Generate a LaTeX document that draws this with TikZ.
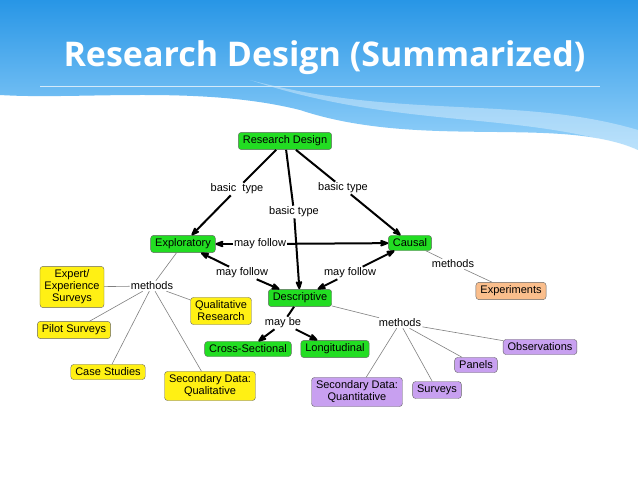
\documentclass[tikz,border=0pt]{standalone}
\usepackage{fontspec}
\setmainfont{Liberation Sans}
\newfontfamily\titlefont{Open Sans}
\usetikzlibrary{arrows.meta, positioning}
\definecolor{boxgreen}{RGB}{34,221,34}
\definecolor{boxyellow}{RGB}{255,240,20}
\definecolor{boxviolet}{RGB}{200,160,240}
\definecolor{boxorange}{RGB}{250,190,140}
\definecolor{skyblue}{RGB}{40,150,230}
\definecolor{skylight}{RGB}{150,210,250}
\begin{document}
\begin{tikzpicture}[x=1pt,y=-1pt,
    >={Stealth[round]},
    box/.style={draw=black!60,rounded corners=3pt,inner xsep=4.5pt,inner ysep=3.5pt,
        font=\fontsize{11}{12}\selectfont,align=center},
    green box/.style={box,fill=boxgreen},
    yellow box/.style={box,fill=boxyellow},
    violet box/.style={box,fill=boxviolet},
    orange box/.style={box,fill=boxorange},
    lbl/.style={font=\fontsize{11}{12}\selectfont,fill=white,inner sep=1pt},
    strong/.style={->,line width=2pt},
    thin/.style={draw=black!50,line width=0.6pt}]

    % background
    \useasboundingbox (0,0) rectangle (638,478);
    \fill[white] (0,0) rectangle (638,478);
    \shade[top color=skyblue,bottom color=skylight]
        (0,0) -- (638,0) -- (638,150) .. controls (560,115) and (420,150) .. (300,110)
        .. controls (200,85) and (80,100) .. (0,95) -- cycle;
    \fill[white,opacity=0.35] (250,80) .. controls (400,130) and (520,110) .. (638,150)
        -- (638,130) .. controls (520,95) and (400,120) .. (250,80);
    \draw[white!80!skyblue] (40,86) -- (600,86);
    \node[text=white,font=\titlefont\bfseries\fontsize{34}{40}\selectfont,anchor=west]
        (title) at (60,58) {Research Design (Summarized)};

    % concepts
    \node[green box]  (design)   at (285,141) {Research Design};
    \node[green box]  (explor)   at (183,244) {Exploratory};
    \node[green box]  (causal)   at (410,243) {Causal};
    \node[green box]  (descr)    at (300,298) {Descriptive};
    \node[green box]  (cross)    at (248,349) {Cross-Sectional};
    \node[green box]  (longi)    at (335,349) {Longitudinal};
    \node[yellow box] (expert)   at (72,287)  {Expert/\\Experience\\Surveys};
    \node[yellow box] (pilot)    at (74,330)  {Pilot Surveys};
    \node[yellow box] (cases)    at (108,372) {Case Studies};
    \node[yellow box] (qualres)  at (221,311) {Qualitative\\Research};
    \node[yellow box] (secqual)  at (210,386) {Secondary Data:\\Qualitative};
    \node[violet box] (secquant) at (357,392) {Secondary Data:\\Quantitative};
    \node[violet box] (surveys)  at (437,390) {Surveys};
    \node[violet box] (panels)   at (476,365) {Panels};
    \node[violet box] (observ)   at (540,347) {Observations};
    \node[orange box] (experim)  at (511,291) {Experiments};

    % linking phrases
    \node[lbl] (bt_l)  at (237,189) {basic\ \ type};
    \node[lbl] (bt_m)  at (294,212) {basic type};
    \node[lbl] (bt_r)  at (343,188) {basic type};
    \node[lbl] (mf_t)  at (260,244) {may follow};
    \node[lbl] (mf_l)  at (242,273) {may follow};
    \node[lbl] (mf_r)  at (350,273) {may follow};
    \node[lbl] (mb)    at (283,323) {may be};
    \node[lbl] (meth_e) at (152,286) {methods};
    \node[lbl] (meth_c) at (453,264) {methods};
    \node[lbl] (meth_d) at (400,323) {methods};

    % connectors
    \draw[line width=2pt] (design) -- (bt_l);
    \draw[strong] (bt_l) -- (explor);
    \draw[line width=2pt] (design) -- (bt_m);
    \draw[strong] (bt_m) -- (descr);
    \draw[line width=2pt] (design) -- (bt_r);
    \draw[strong] (bt_r) -- (causal);
    \draw[strong] (mf_t) -- (explor);
    \draw[strong] (mf_t) -- (causal);
    \draw[strong] (mf_l) -- (explor);
    \draw[strong] (mf_l) -- (descr);
    \draw[strong] (mf_r) -- (causal);
    \draw[strong] (mf_r) -- (descr);
    \draw[line width=2pt] (descr) -- (mb);
    \draw[strong] (mb) -- (cross);
    \draw[strong] (mb) -- (longi);

    \draw[thin] (explor) -- (meth_e);
    \foreach \n in {expert,pilot,cases,qualres,secqual}
        \draw[thin] (meth_e) -- (\n);
    \draw[thin] (causal) -- (meth_c) -- (experim);
    \draw[thin] (descr) -- (meth_d);
    \foreach \n in {secquant,surveys,panels,observ}
        \draw[thin] (meth_d) -- (\n);
\end{tikzpicture}
\end{document}
